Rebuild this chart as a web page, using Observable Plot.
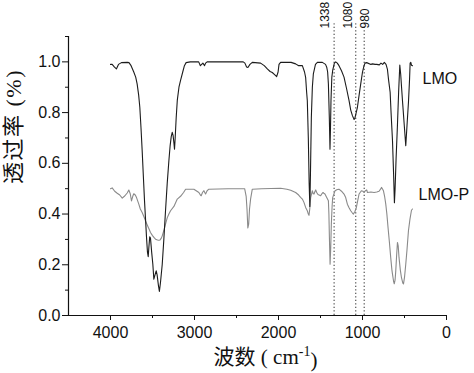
<!DOCTYPE html>
<html><head><meta charset="utf-8">
<script src="https://cdn.jsdelivr.net/npm/d3@7"></script>
<script src="https://cdn.jsdelivr.net/npm/@observablehq/plot@0.6"></script>
<style>body{margin:0;background:#fff}</style>
</head><body><div id="chart"></div>
<script>
// ---- data ----
const lmoWn = [4000,3980,3955,3930,3905,3870,3800,3780,3755,3723,3700,3683,3665,3651,3637,3623,3609,3595,3583,3571,3560,3551,3543,3533,3524,3510,3496,3484,3470,3456,3445,3430,3418,3405,3384,3365,3345,3325,3305,3290,3277,3265,3255,3245,3238,3230,3218,3205,3185,3166,3140,3120,3100,3050,2950,2930,2915,2900,2880,2868,2850,2600,2420,2400,2380,2364,2340,2312,2213,2170,2133,2100,2074,2040,2022,2005,1994,1975,1850,1796,1760,1716,1690,1677,1665,1657,1645,1635,1627,1620,1609,1597,1585,1560,1537,1478,1440,1426,1415,1406,1395,1387,1381,1375,1365,1355,1335,1319,1300,1280,1250,1220,1190,1160,1140,1120,1100,1093,1075,1061,1040,1021,1000,982,970,950,900,880,850,830,800,780,760,740,720,703,690,671,660,643,630,620,612,600,584,570,556,545,535,524,505,485,470,453,440,433,425,417,405];
const lmoT = [0.99,0.99,0.98,0.972,0.99,0.997,0.998,0.997,0.985,0.96,0.94,0.913,0.87,0.821,0.74,0.65,0.55,0.452,0.38,0.307,0.25,0.232,0.27,0.31,0.305,0.25,0.202,0.143,0.16,0.176,0.16,0.12,0.095,0.13,0.202,0.30,0.413,0.52,0.61,0.67,0.705,0.722,0.71,0.68,0.656,0.70,0.78,0.848,0.90,0.927,0.96,0.985,0.997,1.0,1.0,0.985,0.99,0.995,0.985,0.995,1.0,1.0,1.0,0.995,0.98,0.978,0.99,0.998,0.995,0.985,0.972,0.962,0.958,0.948,0.942,0.96,0.99,0.998,0.998,0.992,0.985,0.985,0.96,0.939,0.88,0.847,0.70,0.52,0.43,0.55,0.781,0.9,0.953,0.99,0.998,0.998,0.99,0.979,0.96,0.913,0.78,0.656,0.74,0.85,0.94,0.966,0.995,1.0,0.995,0.985,0.965,0.94,0.895,0.847,0.81,0.788,0.773,0.775,0.80,0.82,0.87,0.913,0.96,0.985,0.995,0.997,0.99,0.992,0.99,0.99,0.988,0.995,0.99,0.998,0.99,0.97,0.93,0.88,0.80,0.69,0.56,0.445,0.50,0.62,0.75,0.88,0.987,0.95,0.90,0.847,0.76,0.669,0.75,0.84,0.93,0.995,0.998,0.987,0.985];
const lmopWn = [4000,3980,3950,3920,3890,3860,3835,3801,3782,3765,3750,3735,3723,3705,3690,3663,3645,3623,3603,3583,3560,3540,3524,3500,3483,3464,3440,3425,3410,3395,3384,3365,3345,3325,3305,3285,3245,3205,3166,3130,3106,3007,2948,2930,2920,2905,2888,2878,2868,2850,2829,2600,2403,2385,2375,2365,2355,2345,2332,2312,2200,1975,1900,1855,1796,1760,1737,1716,1697,1677,1657,1645,1637,1628,1617,1597,1587,1577,1565,1557,1545,1530,1498,1484,1470,1460,1447,1426,1406,1400,1394,1386,1378,1371,1362,1355,1327,1300,1280,1250,1220,1200,1180,1160,1140,1120,1108,1090,1073,1041,1013,995,982,965,950,941,900,862,830,803,785,774,760,751,737,723,710,696,680,664,650,643,630,622,612,604,595,584,575,565,550,536,520,512,500,485,470,453,435,417,405];
const lmopT = [0.50,0.503,0.49,0.482,0.475,0.463,0.47,0.483,0.495,0.48,0.452,0.47,0.48,0.475,0.465,0.439,0.42,0.406,0.39,0.373,0.355,0.34,0.327,0.315,0.308,0.301,0.298,0.297,0.298,0.305,0.314,0.335,0.36,0.385,0.40,0.413,0.43,0.459,0.47,0.485,0.498,0.498,0.485,0.475,0.472,0.485,0.492,0.485,0.479,0.492,0.498,0.5,0.5,0.47,0.42,0.345,0.36,0.42,0.46,0.498,0.5,0.502,0.498,0.494,0.485,0.475,0.466,0.459,0.446,0.426,0.413,0.40,0.395,0.42,0.465,0.492,0.48,0.479,0.49,0.495,0.485,0.477,0.472,0.48,0.485,0.482,0.479,0.465,0.452,0.40,0.307,0.202,0.27,0.36,0.43,0.465,0.492,0.497,0.498,0.49,0.479,0.465,0.439,0.425,0.413,0.404,0.40,0.41,0.426,0.479,0.492,0.49,0.485,0.492,0.495,0.485,0.487,0.485,0.487,0.49,0.498,0.505,0.498,0.492,0.47,0.439,0.40,0.347,0.29,0.228,0.18,0.163,0.135,0.125,0.14,0.176,0.23,0.288,0.275,0.228,0.18,0.149,0.128,0.125,0.15,0.202,0.26,0.334,0.38,0.415,0.42];
const seriesNames = ["LMO", "LMO-P"];
const peakLines = [1338, 1080, 980];
const peakLabels = ["1338", "1080", "980"];
const xMajorTicks = [4000, 3000, 2000, 1000, 0];
const xMinorTicks = [3500, 2500, 1500, 500];
const yMajorTicks = [0, 0.2, 0.4, 0.6, 0.8, 1.0];
const yMinorTicks = [0.1, 0.3, 0.5, 0.7, 0.9, 1.1];
const xTitle = "波数 ( cm-1)";
const yTitle = "透过率 (%)";
const xDomain = [4500, 0];
const yDomain = [0, 1.1];
const peakTop = 1.15;

// ---- build ----
const lmo = lmoWn.map((w, i) => ({w, t: lmoT[i]}));
const lmop = lmopWn.map((w, i) => ({w, t: lmopT[i]}));
const labelDx = [-14, -12, -4];
const sans = "'Liberation Sans', Arial, sans-serif";
const titleFont = "'Liberation Serif', 'Noto Sans CJK SC', serif";

const chart = Plot.plot({
  width: 474, height: 373,
  marginLeft: 68, marginRight: 28, marginTop: 36, marginBottom: 58,
  style: {fontFamily: sans, fontSize: "16px", color: "#111", background: "#fff", overflow: "visible"},
  x: {domain: xDomain},
  y: {domain: yDomain},
  marks: [
    Plot.axisX(xMajorTicks, {tickSize: 5, tickPadding: 6, tickFormat: d3.format("d"), label: null, fontSize: 16, stroke: "#111"}),
    Plot.axisX(xMinorTicks, {tickSize: 3, text: null, label: null, stroke: "#111"}),
    Plot.axisY(yMajorTicks, {tickSize: 6, tickPadding: 2, tickFormat: d3.format(".1f"), label: null, fontSize: 16, stroke: "#111"}),
    Plot.axisY(yMinorTicks, {tickSize: 3, text: null, label: null, stroke: "#111"}),
    Plot.ruleY([yDomain[0]], {stroke: "#111", strokeWidth: 1.2}),
    Plot.ruleX([xDomain[0]], {y1: yDomain[0], y2: yDomain[1], stroke: "#111", strokeWidth: 1.2}),
    Plot.ruleX(peakLines, {x: d => d, y1: yDomain[0], y2: peakTop, stroke: "#333", strokeWidth: 1, strokeDasharray: "1.3,2.2"}),
    ...peakLabels.map((lab, i) => Plot.text([lab], {
      x: () => peakLines[i], text: d => d, frameAnchor: "top", dy: -8, dx: labelDx[i],
      rotate: -90, textAnchor: "start", fontSize: 12, fill: "#111"
    })),
    Plot.line(lmop, {x: "w", y: "t", stroke: "#8a8a8a", strokeWidth: 1.1}),
    Plot.line(lmo, {x: "w", y: "t", stroke: "#1c1c1c", strokeWidth: 1.1}),
    Plot.text([seriesNames[0]], {text: d => d, frameAnchor: "top-right", dx: -24, dy: 36, textAnchor: "start", fontSize: 16, fill: "#111"}),
    Plot.text([seriesNames[1]], {text: d => d, frameAnchor: "top-right", dx: -28, dy: 152, textAnchor: "start", fontSize: 16, fill: "#111"}),
    Plot.text([xTitle], {text: d => d, frameAnchor: "bottom", dx: 8, dy: 48, fontSize: 21, fontFamily: titleFont, fill: "#111"}),
    Plot.text([yTitle], {text: d => d, frameAnchor: "left", dx: -55, dy: 8, rotate: -90, fontSize: 22, fontFamily: titleFont, fill: "#111"})
  ]
});
document.getElementById("chart").appendChild(chart);

// superscript in x title; spacing in y title
d3.select(chart).selectAll("text").each(function () {
  const t = d3.select(this);
  if (this.textContent === xTitle) {
    t.text(null);
    t.append("tspan").text("波数 ( cm");
    t.append("tspan").attr("dy", "-0.55em").attr("font-size", "14px").text("-1");
    t.append("tspan").attr("dy", "0.55em").text(")");
  } else if (this.textContent === yTitle) {
    t.attr("letter-spacing", "1.5px");
  }
});
</script>
</body></html>
